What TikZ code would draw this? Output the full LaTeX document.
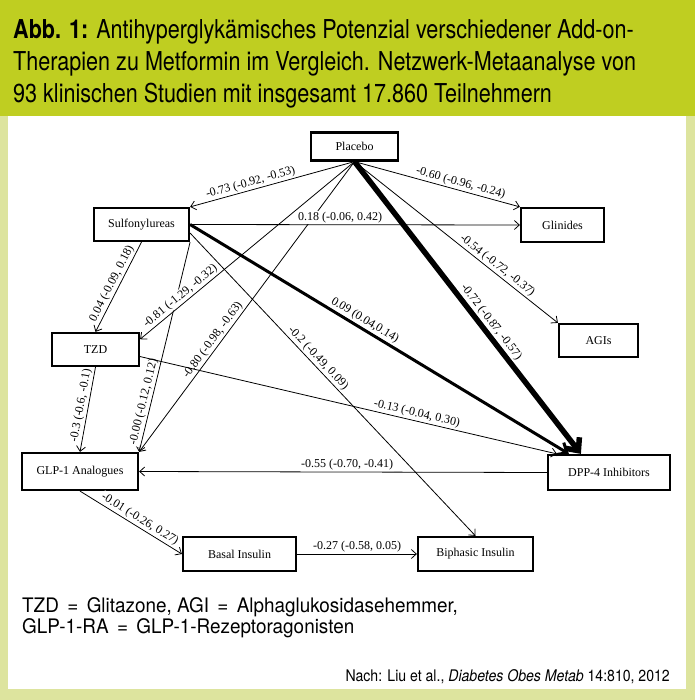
\documentclass[tikz,border=0pt]{standalone}
\usepackage{fontspec}
\setmainfont{Liberation Serif}
\newfontfamily\headfont[FakeStretch=0.83]{TeX Gyre Heros}
\newfontfamily\notefont[FakeStretch=0.945]{TeX Gyre Heros}
\newfontfamily\srcfont[FakeStretch=0.88]{TeX Gyre Heros}
\usetikzlibrary{arrows.meta}
\definecolor{head-green}{HTML}{BFCE21}
\definecolor{frame-green}{HTML}{DDE49E}
\newcommand{\abbreq}{\hspace{0.42em}=\hspace{0.42em}}

\begin{document}
\begin{tikzpicture}[x=1pt, y=-1pt,
    every node/.style={font=\fontsize{12}{14}\selectfont},
    drug/.style={draw, line width=2.2pt, minimum height=34pt, inner sep=0pt},
    link/.style={line width=0.8pt, -{Straight Barb[length=5pt,width=9pt]}},
    est/.style={sloped, above=0.5pt, fill=white, inner sep=1pt}]
  % frame and header
  \fill[frame-green] (0,0) rectangle (695,700);
  \fill[white] (8,116) rectangle (686,689);
  \fill[head-green] (0,0) rectangle (695,116);
  \node[anchor=north west, align=left, inner sep=0pt,
        font=\headfont\fontsize{26}{32}\selectfont] (title) at (13,19)
    {\textbf{Abb. 1:} Antihyperglykämisches Potenzial verschiedener Add-on-\\
     Therapien zu Metformin im Vergleich. Netzwerk-Metaanalyse von\\
     93 klinischen Studien mit insgesamt 17.860 Teilnehmern};

  % treatments
  \node[drug, minimum width=87pt, minimum height=28pt] (plc) at (354.5,146.5) {Placebo};
  \node[drug, minimum width=95pt, minimum height=33pt] (sulf) at (141.5,224.5) {Sulfonylureas};
  \node[drug, minimum width=83pt] (glin) at (562.5,225) {Glinides};
  \node[drug, minimum width=79pt, minimum height=33pt] (agi) at (598.5,340.5) {AGIs};
  \node[drug, minimum width=87pt, minimum height=33pt] (tzd) at (95.5,349.5) {TZD};
  \node[drug, minimum width=116pt, minimum height=37pt] (glp) at (80,471.5) {GLP-1 Analogues};
  \node[drug, minimum width=122pt, minimum height=35pt] (dpp) at (609,472.5) {DPP-4 Inhibitors};
  \node[drug, minimum width=113pt] (basal) at (239.5,554) {Basal Insulin};
  \node[drug, minimum width=115pt] (biph) at (475.5,554) {Biphasic Insulin};

  % comparisons
  \draw[link] (plc.south) -- (glp.north east) node[est, pos=0.63] {-0.80 (-0.98, -0.63)};
  \draw[link] (sulf.south east) -- (glp.north east) node[est, pos=0.77] {-0.00 (-0.12, 0.12)};
  \draw[link] (plc.south) -- (tzd.13) node[est, pos=0.79] {-0.81 (-1.29, -0.32)};
  \draw[link] (plc.south) -- (sulf.north east) node[est, pos=0.62] {-0.73 (-0.92, -0.53)};
  \draw[link] (sulf.east) -- (glin.west) node[est, pos=0.455] {0.18 (-0.06, 0.42)};
  \draw[link] (plc.south) -- (glin.north west) node[est, pos=0.63] {-0.60 (-0.96, -0.24)};
  \draw[link] (plc.south) -- (agi.north west) node[est, pos=0.68] {-0.54 (-0.72, -0.37)};
  \draw[link] (sulf.south) -- (tzd.north) node[est, pos=0.5] {0.04 (-0.09, 0.18)};
  \draw[link] (tzd.south) -- (glp.north) node[est, pos=0.47] {-0.3 (-0.6, -0.1)};
  \draw[link] (sulf.-10) -- (biph.north) node[est, pos=0.43] {-0.2 (-0.49, 0.09)};
  \draw[link] (tzd.-9) -- ([xshift=10pt]dpp.north west) node[est, pos=0.66] {-0.13 (-0.04, 0.30)};
  \draw[link] (dpp.west) -- (glp.east) node[est, pos=0.49] {-0.55 (-0.70, -0.41)};
  \draw[link] (glp.south) -- (basal.west) node[est, pos=0.55] {-0.01 (-0.26, 0.27)};
  \draw[link] (basal.east) -- (biph.west) node[est, pos=0.5] {-0.27 (-0.58, 0.05)};
  \draw[line width=3pt, -{Straight Barb[length=8pt,width=14pt]}]
    (sulf.east) -- ([xshift=22pt]dpp.north west) node[est, pos=0.45] {0.09 (0.04,0.14)};
  \draw[line width=5.5pt, -{Straight Barb[length=10pt,width=18pt]}]
    (plc.south) -- ([xshift=34pt]dpp.north west) node[est, pos=0.57] {-0.72 (-0.87, -0.57)};

  % legend
  \node[anchor=north west, align=left, inner sep=0pt,
        font=\notefont\fontsize{20}{21.5}\selectfont] (abbr) at (22,597)
    {TZD\abbreq Glitazone, AGI\abbreq Alphaglukosidasehemmer,\\
     GLP-1-RA\abbreq GLP-1-Rezeptoragonisten};
  \node[anchor=north east, inner sep=0pt,
        font=\srcfont\fontsize{16}{18}\selectfont] (src) at (670,669)
    {Nach: Liu et al., \textit{Diabetes Obes Metab} 14:810, 2012};
\end{tikzpicture}
\end{document}
